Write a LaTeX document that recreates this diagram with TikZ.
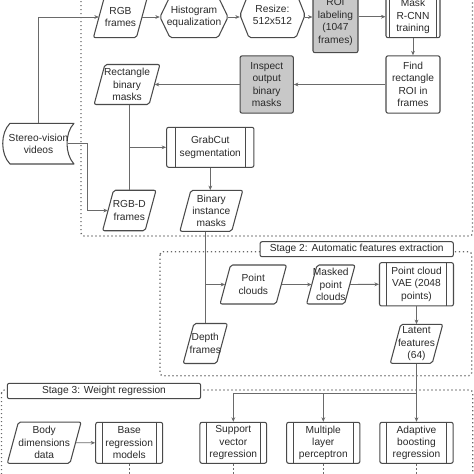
\documentclass[tikz,border=0pt]{standalone}
\usepackage{fontspec}
\setmainfont{Liberation Sans}
\usetikzlibrary{arrows.meta}
\definecolor{txtc}{HTML}{2A2A2A}
\definecolor{bordc}{HTML}{4A4A4A}
\definecolor{linec}{HTML}{6A6A6A}
\definecolor{framec}{HTML}{666666}
\definecolor{fillg}{HTML}{C8C8C8}
\tikzset{
 txt/.style={font=\fontsize{10.2}{12.4}\selectfont, text=txtc, align=center, inner sep=0pt},
 shapeline/.style={draw=bordc, line width=1.05pt, line join=round},
 rectbox/.style={txt, shapeline, rounded corners=2pt, fill=white},
 graybox/.style={rectbox, fill=fillg},
 invis/.style={txt, draw=none},
 conn/.style={draw=linec, line width=0.9pt, -{Stealth[length=4.5pt,width=3.8pt]}},
 plainline/.style={draw=linec, line width=0.9pt},
 frame/.style={draw=framec, line width=1.3pt, dash pattern=on 1.2pt off 2.8pt, rounded corners=3pt},
 stagelabel/.style={rectbox},
 dashline/.style={draw=linec, line width=0.9pt, dash pattern=on 2pt off 2pt},
}
\newcommand\procbox[7]{%
 \node[rectbox, minimum width=#4, minimum height=#5] (#1) at (#2,#3) {#7};
 \draw[shapeline] ([xshift=#6pt]#1.north west) -- ([xshift=#6pt]#1.south west)
   ([xshift=-#6pt]#1.north east) -- ([xshift=-#6pt]#1.south east);
}
\newcommand\parabox[6]{%
 \pgfmathsetmacro\pqL{#2-#4/2}\pgfmathsetmacro\pqR{#2+#4/2}%
 \pgfmathsetmacro\pqT{#3-#5/2}\pgfmathsetmacro\pqB{#3+#5/2}%
 \pgfmathsetmacro\pqS{0.135*#5}%
 \draw[shapeline, fill=white, rounded corners=2pt] (\pqL-\pqS,\pqB) -- (\pqR-\pqS,\pqB) -- (\pqR+\pqS,\pqT) -- (\pqL+\pqS,\pqT) -- cycle;
 \node[invis, minimum width=#4, minimum height=#5] (#1) at (#2,#3) {#6};
}
\newcommand\hexbox[7]{%
 \pgfmathsetmacro\pqL{#2-#4/2}\pgfmathsetmacro\pqR{#2+#4/2}%
 \pgfmathsetmacro\pqT{#3-#5/2}\pgfmathsetmacro\pqB{#3+#5/2}%
 \draw[shapeline, fill=white, rounded corners=2pt] (\pqL,#3) -- (\pqL+#6,\pqT) -- (\pqR-#6,\pqT) -- (\pqR,#3) -- (\pqR-#6,\pqB) -- (\pqL+#6,\pqB) -- cycle;
 \node[invis, minimum width=#4, minimum height=#5] (#1) at (#2,#3) {#7};
}
\begin{document}
\begin{tikzpicture}[x=1pt,y=-1pt]
\useasboundingbox (0,0) rectangle (474,474);
\clip (0,0) rectangle (474,474);
% frames
\draw[frame] (81,-10) rectangle (472.5,236);
\draw[frame] (160,251.7) rectangle (471.7,375.7);
\draw[frame] (1.5,390) rectangle (472.7,490);
\node[stagelabel, minimum width=193.3, minimum height=15] (S2) at (356.7,249.2) {Stage 2: Automatic features extraction};
\node[stagelabel, minimum width=193.4, minimum height=15.4] (S3) at (104,391) {Stage 3: Weight regression};
% stage 1
\parabox{RGB}{120.5}{17}{43}{41.4}{RGB\\frames}
\hexbox{Hist}{194}{17}{68}{41.4}{10}{Histogram\\equalization}
\hexbox{Resize}{272.5}{15}{65}{45.4}{9}{Resize:\\512x512}
\node[graybox, minimum width=45, minimum height=61.4] (ROI) at (335.5,22) {ROI\\labeling\\(1047\\frames)};
\procbox{Mask}{413}{16.7}{54}{42}{3.6}{Mask\\R-CNN\\training}
\node[rectbox, minimum width=54, minimum height=57.3] (Find) at (413,84.5) {Find\\rectangle\\ROI in\\frames};
\node[graybox, minimum width=53.3, minimum height=57.3] (Inspect) at (266.7,84.5) {Inspect\\output\\binary\\masks};
\parabox{RectMasks}{127}{84.5}{55}{40}{Rectangle\\binary\\masks}
\draw[shapeline, fill=white] (10,123.3) -- (74,123.3) .. controls (64.7,133) and (64.7,154) .. (74,164) -- (10,164) .. controls (0.3,154) and (0.3,133) .. (10,123.3) -- cycle;
\node[invis, minimum width=57, minimum height=40.7] (Stereo) at (38.5,143.6) {Stereo-vision\\videos};
\procbox{GrabCut}{210.3}{147.3}{87.3}{40}{9}{GrabCut\\segmentation}
\parabox{RGBD}{129.3}{210.5}{42.5}{40.5}{RGB-D\\frames}
\parabox{BinMasks}{211.3}{210.8}{51.9}{41}{Binary\\instance\\masks}
% stage 2
\parabox{PC}{253.3}{284.5}{56}{39}{Point\\clouds}
\parabox{Masked}{330.8}{284.5}{38}{39}{Masked\\point\\clouds}
\procbox{VAE}{416.5}{284.3}{74}{43.3}{7.3}{Point cloud\\VAE (2048\\points)}
\parabox{Latent}{416.5}{343.8}{42}{39}{Latent\\features\\(64)}
\parabox{Depth}{205.3}{343.5}{33.5}{40}{Depth\\frames}
% stage 3
\parabox{Body}{44.2}{442.7}{62.7}{41.3}{Body\\dimensions\\data}
\procbox{Base}{129.2}{442.8}{67}{41}{7}{Base\\regression\\models}
\procbox{SVR}{233.3}{442.8}{66.7}{41}{7}{Support\\vector\\regression}
\procbox{MLP}{323.3}{442.8}{73.3}{41}{7}{Multiple\\layer\\perceptron}
\procbox{Ada}{416.5}{442.8}{73.3}{41}{7}{Adaptive\\boosting\\regression}
% connectors
\draw[conn] (Stereo.north) |- (RGB.west);
\draw[conn] (RGB.east) -- (Hist.west);
\draw[conn] (Hist.east) -- (Hist.east -| Resize.west);
\draw[conn] (Resize.east |- Hist.east) -- (ROI.west |- Hist.east);
\draw[conn] (ROI.east |- Mask.west) -- (Mask.west);
\draw[conn] (Mask.south) -- (Find.north);
\draw[conn] (Find.west) -- (Inspect.east);
\draw[conn] (Inspect.west) -- (RectMasks.east);
\draw[plainline] (RGBD.north |- RectMasks.south) -- (RGBD.north);
\draw[conn] (RGBD.north |- GrabCut.west) -- (GrabCut.west);
\draw[conn] (Stereo.east) -- ++(19,0) |- (RGBD.west);
\draw[conn] (GrabCut.south) -- (GrabCut.south |- BinMasks.north);
\draw[plainline] (Depth.north |- BinMasks.south) -- (Depth.north);
\draw[conn] (Depth.north |- PC.west) -- (PC.west);
\draw[conn] (PC.east) -- (Masked.west);
\draw[conn] (Masked.east) -- (VAE.west);
\draw[conn] (VAE.south) -- (Latent.north);
\draw[conn] (Latent.south) -- (Ada.north);
\coordinate (split) at (416.5,393.3);
\draw[conn] (split) -| (SVR.north);
\draw[conn] (MLP.north |- split) -- (MLP.north);
\draw[conn] (Body.east) -- (Base.west);
\draw[dashline] (Base.south) -- ++(0,15);
\draw[dashline] (SVR.south) -- ++(0,15);
\draw[dashline] (MLP.south) -- ++(0,15);
\draw[dashline] (Ada.south) -- ++(0,15);
\end{tikzpicture}
\end{document}
